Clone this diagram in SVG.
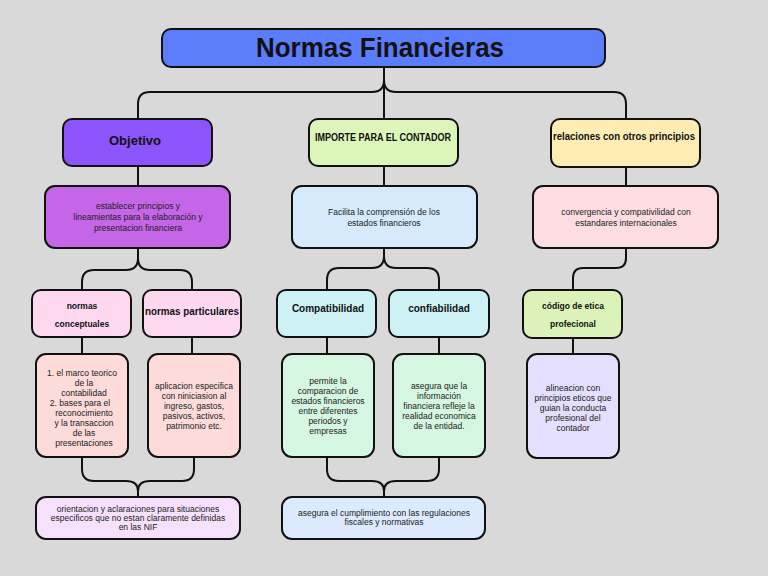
<svg xmlns="http://www.w3.org/2000/svg" width="768" height="576" viewBox="0 0 768 576">
<style>
.b{stroke:#111;stroke-width:2}
.c{fill:none;stroke:#111;stroke-width:2}
.h{font-family:"Liberation Sans",sans-serif;font-weight:bold;fill:#111;text-anchor:middle}
.t{font-family:"Liberation Sans",sans-serif;font-size:8.5px;fill:#222;text-anchor:middle}
</style>
<rect width="768" height="576" fill="#d9d9d9"/>
<g id="connectors">
<path class="c" d="M384 67V119M384 80Q384 92 372 92H150Q138 92 138 104V119M384 80Q384 92 396 92H614Q626 92 626 104V119"/>
<path class="c" d="M138 166V186M384 166V186M626 167V186"/>
<path class="c" d="M138 248V258Q138 270 126 270H94Q82 270 82 282V290M138 258Q138 270 150 270H180Q192 270 192 282V290"/>
<path class="c" d="M384 248V256Q384 268 372 268H339Q327 268 327 280V290M384 256Q384 268 396 268H427Q439 268 439 280V290"/>
<path class="c" d="M626 248V258Q626 268 616 268H583Q573 268 573 278V290"/>
<path class="c" d="M82 337V354M192 337V354M327 337V354M439 337V354M573 338V354"/>
<path class="c" d="M82 457V469Q82 481 94 481H126Q138 481 138 491V497M194 457V469Q194 481 182 481H150Q138 481 138 491"/>
<path class="c" d="M327 457V469Q327 481 339 481H372Q384 481 384 491V497M439 457V469Q439 481 427 481H396Q384 481 384 491"/>
</g>
<g id="title"><rect class="b" x="162" y="29" width="443" height="38" rx="9" fill="#5b7cfb"/><text class="h" x="380" y="57" font-size="27" textLength="248" lengthAdjust="spacingAndGlyphs">Normas Financieras</text></g>
<g id="objetivo"><rect class="b" x="63" y="119" width="149" height="47" rx="9" fill="#8c54fb"/><text class="h" x="135" y="145" font-size="13">Objetivo</text></g>
<g id="importe"><rect class="b" x="309" y="119" width="149" height="47" rx="9" fill="#dcf5b9"/><text class="h" x="383" y="141" font-size="11" textLength="136" lengthAdjust="spacingAndGlyphs">IMPORTE PARA EL CONTADOR</text></g>
<g id="relaciones"><rect class="b" x="551" y="119" width="149" height="48" rx="9" fill="#fdecb4"/><text class="h" x="624" y="140" font-size="11" textLength="142" lengthAdjust="spacingAndGlyphs">relaciones con otros principios</text></g>
<g id="establecer"><rect class="b" x="45" y="186" width="185" height="62" rx="10" fill="#c565e8"/><text class="t" x="138" y="209">establecer principios y</text><text class="t" x="138" y="220">lineamientas para la elaboración y</text><text class="t" x="138" y="231">presentacion financiera</text></g>
<g id="facilita"><rect class="b" x="292" y="186" width="185" height="62" rx="10" fill="#d6eafc"/><text class="t" x="384" y="215">Facilita la comprensión de los</text><text class="t" x="384" y="226">estados financieros</text></g>
<g id="convergencia"><rect class="b" x="533" y="186" width="185" height="62" rx="10" fill="#fddde1"/><text class="t" x="626" y="215">convergencia y compativilidad con</text><text class="t" x="626" y="226">estandares internacionales</text></g>
<g id="conceptuales"><rect class="b" x="32" y="290" width="99" height="47" rx="9" fill="#fdd8ef"/><text class="h" x="82" y="309" font-size="8.5">normas</text><text class="h" x="82" y="327" font-size="8.5">conceptuales</text></g>
<g id="particulares"><rect class="b" x="143" y="290" width="98" height="47" rx="9" fill="#fdd8ef"/><text class="h" x="192" y="315" font-size="10.5" textLength="94" lengthAdjust="spacingAndGlyphs">normas particulares</text></g>
<g id="compatibilidad"><rect class="b" x="277" y="290" width="99" height="47" rx="9" fill="#cdf1f5"/><text class="h" x="328" y="312" font-size="10">Compatibilidad</text></g>
<g id="confiabilidad"><rect class="b" x="389" y="290" width="100" height="47" rx="9" fill="#cdf1f5"/><text class="h" x="439" y="312" font-size="10">confiabilidad</text></g>
<g id="codigo"><rect class="b" x="523" y="290" width="99" height="48" rx="9" fill="#dbf3b9"/><text class="h" x="573" y="309" font-size="8.5">código de etica</text><text class="h" x="573" y="327" font-size="8.5">profecional</text></g>
<g id="marco"><rect class="b" x="36" y="354" width="92" height="103" rx="10" fill="#fddbd9"/>
<text class="t" x="82" y="376">1. el marco teorico</text><text class="t" x="84" y="386">de la</text><text class="t" x="84" y="396">contabilidad</text><text class="t" x="80" y="406">2.   bases para el</text><text class="t" x="84" y="416">reconocimiento</text><text class="t" x="84" y="426">y la transaccion</text><text class="t" x="84" y="436">de las</text><text class="t" x="84" y="446">presentaciones</text></g>
<g id="aplicacion"><rect class="b" x="148" y="354" width="92" height="103" rx="10" fill="#fddbd9"/>
<text class="t" x="194" y="389">aplicacion especifica</text><text class="t" x="194" y="399">con niniciasion al</text><text class="t" x="194" y="409">ingreso, gastos,</text><text class="t" x="194" y="419">pasivos, activos,</text><text class="t" x="194" y="429">patrimonio etc.</text></g>
<g id="permite"><rect class="b" x="282" y="354" width="92" height="103" rx="10" fill="#d5f6e0"/>
<text class="t" x="328" y="384">permite la</text><text class="t" x="328" y="394">comparacion de</text><text class="t" x="328" y="404">estados financieros</text><text class="t" x="328" y="414">entre diferentes</text><text class="t" x="328" y="424">periodos y</text><text class="t" x="328" y="434">empresas</text></g>
<g id="asegura"><rect class="b" x="393" y="354" width="92" height="103" rx="10" fill="#d5f6e0"/>
<text class="t" x="439" y="389">asegura que la</text><text class="t" x="439" y="399">información</text><text class="t" x="439" y="409">financiera refleje la</text><text class="t" x="439" y="419">realidad economica</text><text class="t" x="439" y="429">de la entidad.</text></g>
<g id="alineacion"><rect class="b" x="527" y="354" width="92" height="104" rx="10" fill="#e4dffc"/>
<text class="t" x="573" y="391">alineacion con</text><text class="t" x="573" y="401">principios eticos que</text><text class="t" x="573" y="411">guian la conducta</text><text class="t" x="573" y="421">profesional del</text><text class="t" x="573" y="431">contador</text></g>
<g id="orientacion"><rect class="b" x="36" y="497" width="204" height="42" rx="10" fill="#f6e1fd"/>
<text class="t" x="138" y="512" font-size="7.5">orientacion y aclaraciones para situaciones</text><text class="t" x="138" y="521" font-size="7.5">especificos que no estan claramente definidas</text><text class="t" x="138" y="530" font-size="7.5">en las NIF</text></g>
<g id="cumplimiento"><rect class="b" x="282" y="497" width="203" height="42" rx="10" fill="#dbeafc"/>
<text class="t" x="384" y="516" font-size="7.5">asegura el cumplimiento con las regulaciones</text><text class="t" x="384" y="525" font-size="7.5">fiscales y normativas</text></g>
</svg>
